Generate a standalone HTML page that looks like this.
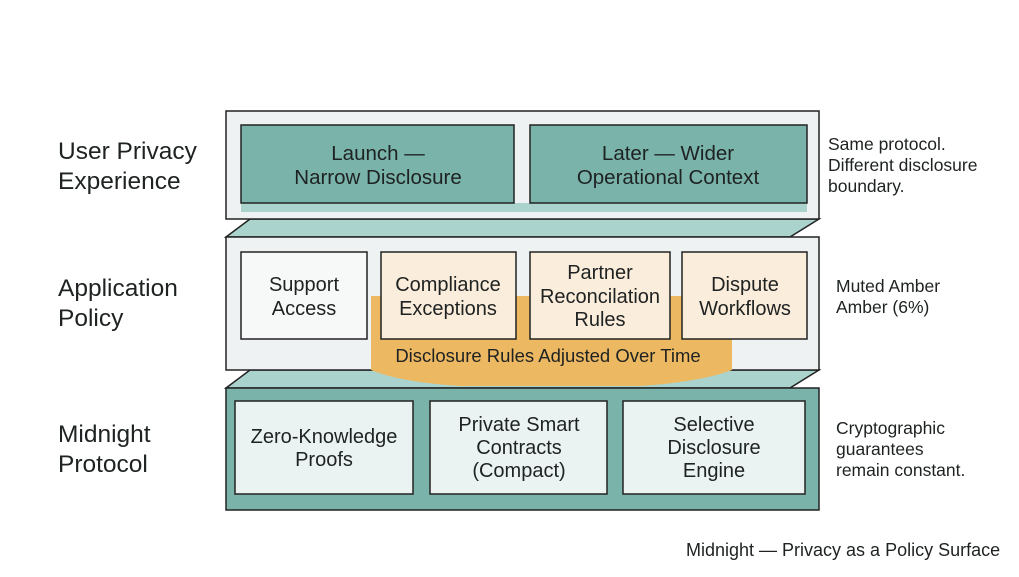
<!DOCTYPE html>
<html><head><meta charset="utf-8"><style>
html,body{margin:0;padding:0;background:#fff;}
svg text{font-family:"Liberation Sans",sans-serif;fill:#1e2222;}
</style></head><body>
<svg width="1019" height="572" viewBox="0 0 1019 572" xmlns="http://www.w3.org/2000/svg">
<rect width="1019" height="572" fill="#fff"/>
<g font-size="24.5">
<text x="58" y="159">User Privacy</text><text x="58" y="189">Experience</text>
<text x="58" y="296">Application</text><text x="58" y="326">Policy</text>
<text x="58" y="442">Midnight</text><text x="58" y="472">Protocol</text>
</g>
<polygon points="250,219 819,219 790,237 226,237" fill="#a9d3cc" stroke="#222" stroke-width="1.5"/>
<polygon points="250,370 819,370 790,388 226,388" fill="#a9d3cc" stroke="#222" stroke-width="1.5"/>
<rect x="226" y="111" width="593" height="108" fill="#eef2f2" stroke="#222" stroke-width="1.5"/>
<rect x="241" y="203" width="566" height="9" fill="#a9d3cc"/>
<rect x="241" y="125" width="273" height="78" fill="#79b3aa" stroke="#222" stroke-width="1.5"/>
<rect x="530" y="125" width="277" height="78" fill="#79b3aa" stroke="#222" stroke-width="1.5"/>
<g font-size="20.5" text-anchor="middle">
<text x="378" y="160">Launch —</text><text x="378" y="184">Narrow Disclosure</text>
<text x="668" y="160">Later — Wider</text><text x="668" y="184">Operational Context</text>
</g>
<rect x="226" y="237" width="593" height="133" fill="#eef2f2" stroke="#222" stroke-width="1.5"/>
<path d="M371,296 H732 V370 Q700,382 640,386 H460 Q400,382 371,370 Z" fill="#edb862"/>
<rect x="241" y="252" width="126" height="87" fill="#f7f8f8" stroke="#222" stroke-width="1.5"/>
<rect x="381" y="252" width="135" height="87" fill="#fbeddb" stroke="#222" stroke-width="1.5"/>
<rect x="530" y="252" width="140" height="87" fill="#fbeddb" stroke="#222" stroke-width="1.5"/>
<rect x="682" y="252" width="125" height="87" fill="#fbeddb" stroke="#222" stroke-width="1.5"/>
<g font-size="20" text-anchor="middle">
<text x="304" y="291">Support</text><text x="304" y="315">Access</text>
<text x="448" y="291">Compliance</text><text x="448" y="315">Exceptions</text>
<text x="600" y="279">Partner</text><text x="600" y="303">Reconcilation</text><text x="600" y="326">Rules</text>
<text x="745" y="291">Dispute</text><text x="745" y="315">Workflows</text>
</g>
<text x="548" y="362" font-size="18.5" text-anchor="middle">Disclosure Rules Adjusted Over Time</text>
<rect x="226" y="388" width="593" height="122" fill="#79b3aa" stroke="#222" stroke-width="1.5"/>
<rect x="235" y="401" width="178" height="93" fill="#ebf2f2" stroke="#222" stroke-width="1.5"/>
<rect x="430" y="401" width="177" height="93" fill="#ebf2f2" stroke="#222" stroke-width="1.5"/>
<rect x="623" y="401" width="182" height="93" fill="#ebf2f2" stroke="#222" stroke-width="1.5"/>
<g font-size="20" text-anchor="middle">
<text x="324" y="443">Zero-Knowledge</text><text x="324" y="466">Proofs</text>
<text x="519" y="431">Private Smart</text><text x="519" y="454">Contracts</text><text x="519" y="477">(Compact)</text>
<text x="714" y="431">Selective</text><text x="714" y="454">Disclosure</text><text x="714" y="477">Engine</text>
</g>
<g font-size="17.5">
<text x="828" y="150">Same protocol.</text><text x="828" y="171">Different disclosure</text><text x="828" y="192">boundary.</text>
<text x="836" y="292">Muted Amber</text><text x="836" y="313">Amber (6%)</text>
<text x="836" y="434">Cryptographic</text><text x="836" y="455">guarantees</text><text x="836" y="476">remain constant.</text>
<text x="686" y="556" font-size="18">Midnight — Privacy as a Policy Surface</text>
</g>
</svg>
</body></html>
